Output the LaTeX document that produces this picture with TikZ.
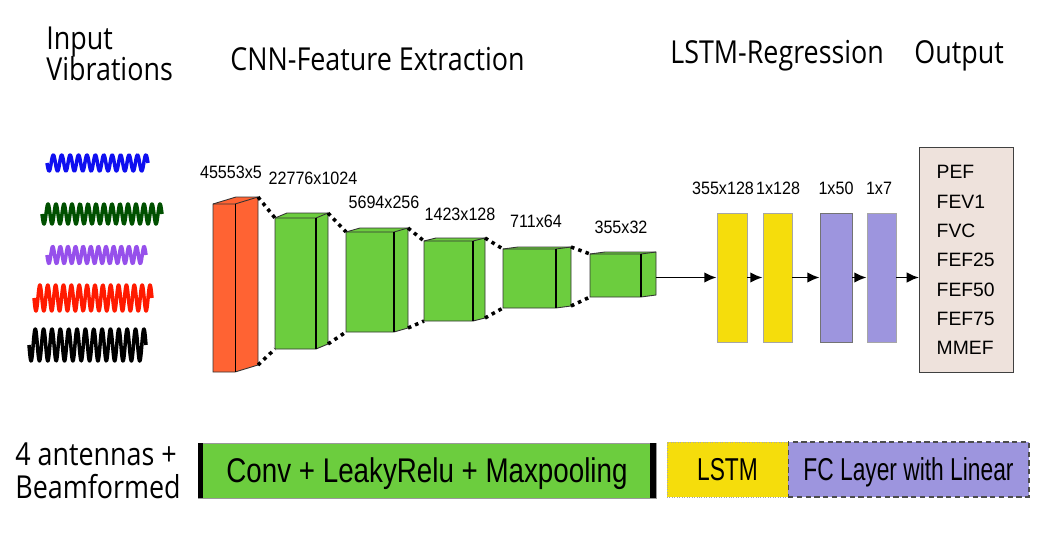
\documentclass[tikz,border=0pt]{standalone}
\usepackage{fontspec}
\usepackage{xcolor}
\usetikzlibrary{arrows.meta,calc}
\setmainfont{Liberation Sans}
\newfontfamily\headfont[FakeStretch=0.85]{Open Sans}
\newfontfamily\dimfont[FakeStretch=0.9]{Liberation Sans}
\newfontfamily\convfont[FakeStretch=0.81]{Liberation Sans}
\newfontfamily\fcfont[FakeStretch=0.72]{Liberation Sans}

\definecolor{cnnorange}{RGB}{255,99,51}
\definecolor{cnngreen}{RGB}{108,205,62}
\definecolor{lstmyellow}{RGB}{245,221,12}
\definecolor{fcpurple}{RGB}{157,149,222}
\definecolor{outfill}{RGB}{238,226,220}
\definecolor{wavegreen}{RGB}{0,80,0}
\definecolor{wavepurple}{RGB}{150,80,235}
\definecolor{wavered}{RGB}{255,26,0}
\definecolor{waveblue}{RGB}{15,15,240}

\tikzset{
  head/.style={font=\headfont\fontsize{18}{20}\selectfont, anchor=base west, inner sep=0},
  dimlabel/.style={font=\dimfont\fontsize{10.2}{12}\selectfont, inner sep=0},
  blkedge/.style={draw=black!80, line width=0.5pt},
  dotline/.style={line width=2pt, dash pattern=on 2pt off 2.4pt},
  wave/.style={line width=2pt, line join=round},
  arrowline/.style={line width=1.1pt},
  layerbar/.style={draw=black!35, line width=0.4pt, minimum width=0.6cm, minimum height=2.58cm, inner sep=0},
  bigbar/.style={minimum height=1.1cm, inner sep=0, text depth=0pt},
}

\begin{document}
\begin{tikzpicture}[x=0.02cm, y=-0.02cm, >={Latex[length=7pt,width=6pt]}]
  \useasboundingbox (0,0) rectangle (1038,554);

  % Titles
  \node[head] (intitle) at (46,50) {Input};
  \node[head] (vibtitle) at (46,81) {Vibrations};
  \node[head] (cnntitle) at (230,71) {CNN-Feature Extraction};
  \node[head] (lstmtitle) at (670,64) {LSTM-Regression};
  \node[head] (outtitle) at (914,64) {Output};

  % Input waves
  \foreach \c/\xa/\xb/\yc/\amp/\per in {waveblue/47/148/163/8/12, wavegreen/42/162/214/10/15,
      wavepurple/47/146/255/8.5/13, wavered/34/152/298/13/15, black/29/146/345/16/14}
    \draw[wave, \c] plot[domain=\xa:\xb, samples=300] (\x, {\yc + \amp*sin(360*\per/(\xb-\xa)*(\x-\xa))});

  % CNN blocks
  \foreach \blk/\xa/\ya/\xb/\yb/\d/\s/\c/\w in {c0/213/204/235/372/23/7/cnnorange/0.5pt,
      c1/275/218/316/349/12/5/cnngreen/1.6pt, c2/346/232/394/332/14/4/cnngreen/1.6pt,
      c3/424/241/473/321/12/3/cnngreen/1.6pt, c4/503/249/556/308/15/2/cnngreen/1.6pt,
      c5/590/254/641/297/15/2/cnngreen/1.6pt}{
    \coordinate (\blk-ftl) at (\xa,\ya);
    \coordinate (\blk-ftr) at (\xb,\ya);
    \coordinate (\blk-fbl) at (\xa,\yb);
    \coordinate (\blk-fbr) at (\xb,\yb);
    \coordinate (\blk-btl) at ($(\xa,\ya)+(\d,-\s)$);
    \coordinate (\blk-btr) at ($(\xb,\ya)+(\d,-\s)$);
    \coordinate (\blk-bbr) at ($(\xb,\yb)+(\d,-\s)$);
    \filldraw[fill=\c, blkedge] (\blk-fbl) -- (\blk-ftl) -- (\blk-btl) -- (\blk-btr) -- (\blk-bbr) -- (\blk-fbr) -- cycle;
    \draw[blkedge] (\blk-ftl) -- (\blk-ftr) -- (\blk-btr);
    \draw[line width=\w] (\blk-ftr) -- (\blk-fbr);
  }
  \foreach \a/\b in {c0/c1, c1/c2, c2/c3, c3/c4, c4/c5}
    \draw[dotline] (\a-btr) -- (\b-ftl) (\a-bbr) -- (\b-fbl);
  \coordinate (c5-out) at (656,277.5);

  % Size labels
  \foreach \i/\x/\y/\t in {0/231/172/45553x5, 1/313/178/22776x1024, 2/384/202/5694x256,
      3/460/214/1423x128, 4/536/221/711x64, 5/621/227/355x32, 6/723/188/355x128,
      7/778/188/1x128, 8/836/188/1x50, 9/879/188/1x7}
    \node[dimlabel] (dim\i) at (\x,\y) {\t};

  % LSTM and FC layers
  \node[layerbar, fill=lstmyellow] (lstm1) at (732,277.5) {};
  \node[layerbar, fill=lstmyellow, minimum width=0.58cm] (lstm2) at (777.5,277.5) {};
  \node[layerbar, fill=fcpurple, draw=black!55, minimum width=0.64cm] (fc1) at (836,277.5) {};
  \node[layerbar, fill=fcpurple, minimum width=0.58cm] (fc2) at (881.5,277.5) {};
  \node[draw=black!75, line width=0.8pt, fill=outfill, minimum width=1.88cm, minimum height=4.5cm,
    text width=1.2cm, inner xsep=0.34cm, align=left, anchor=north west,
    font=\fontsize{11}{16.7}\selectfont] (out) at (919,147)
    {PEF\\FEV1\\FVC\\FEF25\\FEF50\\FEF75\\MMEF};

  % Connect layers
  \draw[->, arrowline] (c5-out) -- (lstm1);
  \draw[->, arrowline] (lstm1) -- (lstm2);
  \draw[->, arrowline] (lstm2) -- (fc1);
  \draw[->, arrowline] (fc1) -- (fc2);
  \draw[->, arrowline] (fc2) -- (fc2 -| out.west);

  % Legend bars
  \node[head] (ant1) at (15,465) {4 antennas +};
  \node[head] (ant2) at (15,498) {Beamformed};
  \node[bigbar, fill=cnngreen, draw=black!40, minimum width=9.16cm,
    font=\convfont\fontsize{19.5}{22}\selectfont] (convbar) at (427,470.5) {Conv + LeakyRelu + Maxpooling};
  \fill (convbar.north west) rectangle ([xshift=0.1cm]convbar.south west);
  \fill (convbar.north east) rectangle ([xshift=-0.12cm]convbar.south east);
  \node[bigbar, fill=lstmyellow, draw=black!35, densely dotted, minimum width=2.42cm,
    font=\fcfont\fontsize{18}{20}\selectfont] (lstmbar) at (727.5,469.5) {LSTM};
  \node[bigbar, fill=fcpurple, draw=black!70, densely dashed, line width=0.6pt, minimum width=4.82cm,
    font=\fcfont\fontsize{18}{20}\selectfont] (fcbar) at (908.5,469.5) {FC Layer with Linear};
\end{tikzpicture}
\end{document}
